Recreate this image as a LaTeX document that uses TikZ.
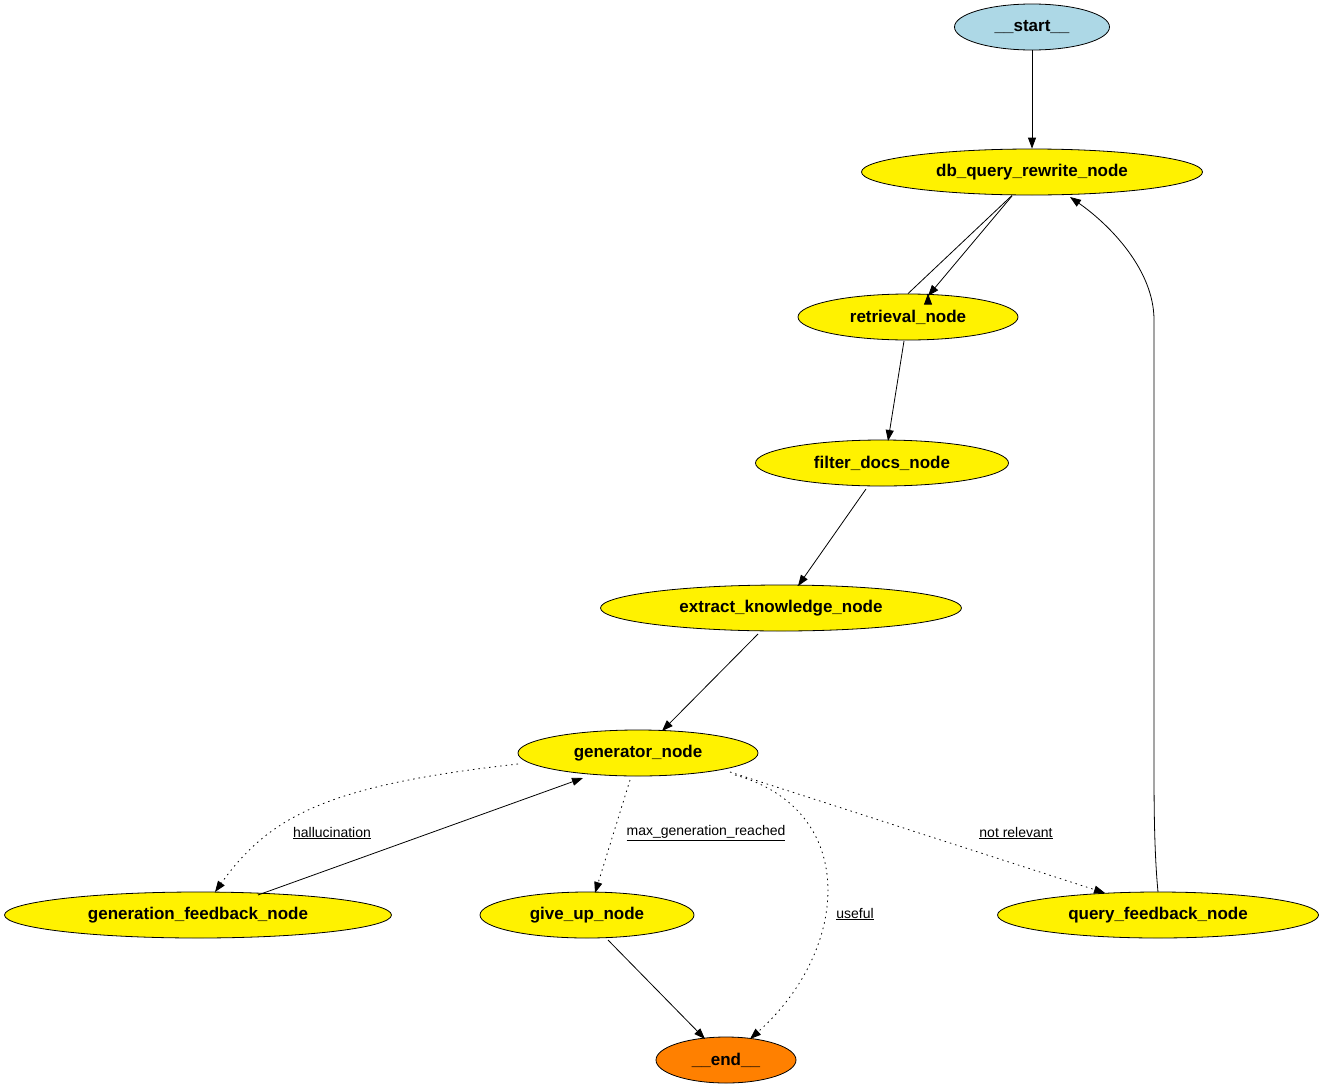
\documentclass[tikz,border=0pt]{standalone}
\usepackage{fontspec}
\setmainfont{Liberation Sans}
\usetikzlibrary{arrows.meta,shapes.geometric}
\begin{document}
\begin{tikzpicture}[x=1pt,y=-1pt,
  nd/.style={ellipse,draw,line width=0.8pt,fill=yellow,inner sep=0pt,font=\fontsize{17}{20}\selectfont\bfseries},
  ar/.style={-{Triangle[length=11pt,width=8pt]},line width=0.8pt},
  dt/.style={ar,dash pattern=on 1.5pt off 4pt},
  lb/.style={font=\fontsize{14}{16}\selectfont,inner sep=1pt}]
\useasboundingbox (0,0) rectangle (1325,1092);
\node[nd,fill={rgb,255:red,173;green,216;blue,230},minimum width=155pt,minimum height=46pt] (s) at (1032,27) {\_\_start\_\_};
\node[nd,minimum width=341pt,minimum height=46pt] (db) at (1032,172) {db\_query\_rewrite\_node};
\node[nd,minimum width=220pt,minimum height=46pt] (r) at (908,317) {retrieval\_node};
\node[nd,minimum width=253pt,minimum height=46pt] (f) at (882,463) {filter\_docs\_node};
\node[nd,minimum width=361pt,minimum height=46pt] (x) at (781,608) {extract\_knowledge\_node};
\node[nd,minimum width=240pt,minimum height=46pt] (g) at (638,753) {generator\_node};
\node[nd,minimum width=387pt,minimum height=46pt] (gf) at (198,915) {generation\_feedback\_node};
\node[nd,minimum width=214pt,minimum height=46pt] (gu) at (587,915) {give\_up\_node};
\node[nd,minimum width=321pt,minimum height=46pt] (qf) at (1158,915) {query\_feedback\_node};
\node[nd,fill=orange,minimum width=140pt,minimum height=46pt] (e) at (726,1060) {\_\_end\_\_};
\draw[ar] (s) -- (db);
\draw[ar] (db.south) ++(-20,0) coordinate (a1) (a1) -- (r.north) ++(20,0);
\draw[ar] (1012,196) -- (928,296);
\draw[ar] (904,341) -- (888,441);
\draw[ar] (866,489) -- (798,586);
\draw[ar] (758,634) -- (662,731);
\draw[dt] (518,764) .. controls (330,785) and (270,815) .. (215,892);
\draw[ar] (258,895) -- (583,778);
\draw[dt] (630,780) -- (595,893);
\draw[dt] (735,775) .. controls (860,810) and (850,950) .. (750,1039);
\draw[dt] (730,772) -- (1105,893);
\draw[ar] (1158,892) .. controls (1154,850) and (1154,800) .. (1154,760) -- (1154,320) .. controls (1154,270) and (1110,225) .. (1070,197);
\draw[ar] (608,940) -- (705,1039);
\node[lb] (l1) at (332,833) {\underline{hallucination}};
\node[lb] (l2) at (706,833) {\underline{max\_generation\_reached}};
\node[lb] (l3) at (1016,833) {\underline{not relevant}};
\node[lb] (l4) at (855,914) {\underline{useful}};
\end{tikzpicture}
\end{document}
